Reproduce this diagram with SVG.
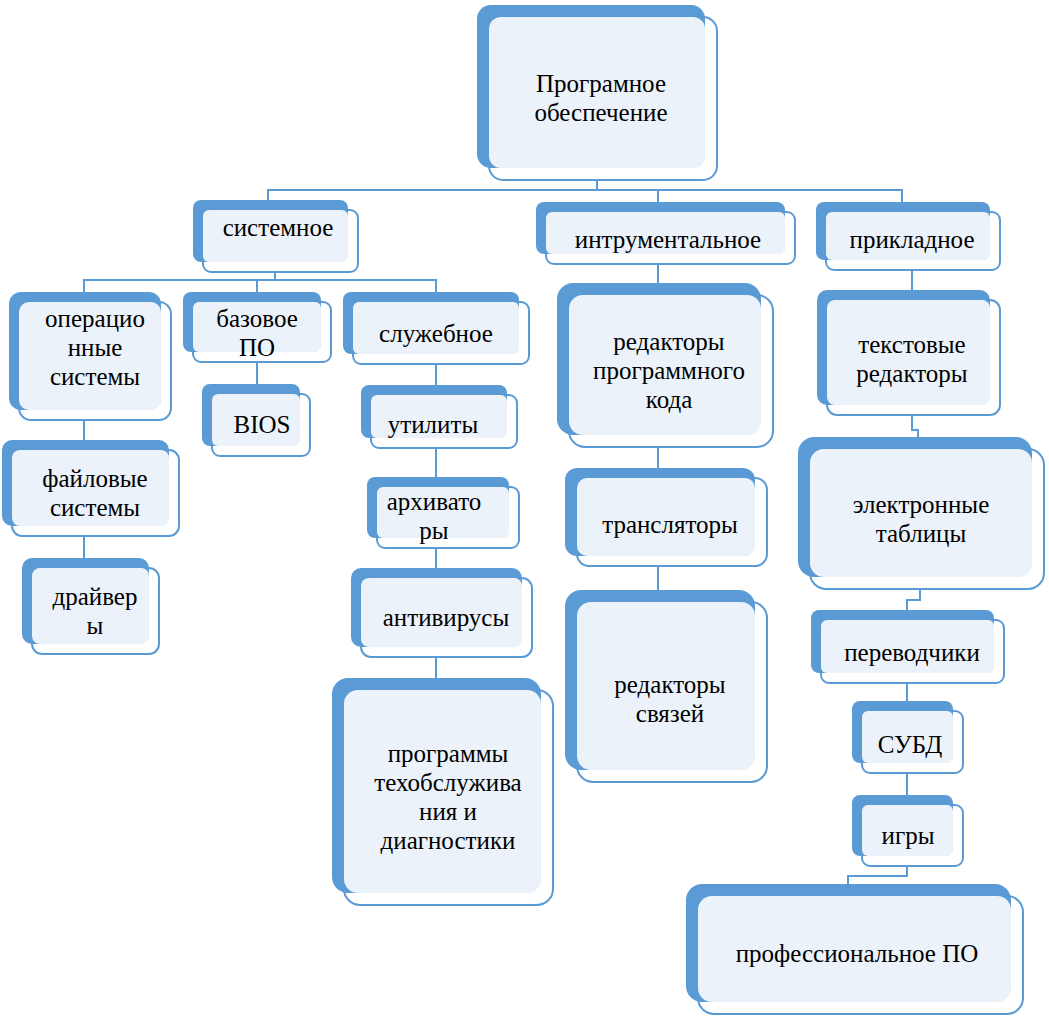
<svg xmlns="http://www.w3.org/2000/svg" width="1049" height="1018" viewBox="0 0 1049 1018">
<style>
.f{fill:#fff;stroke:#5b9bd5;stroke-width:2}
.b{fill:#5b9bd5}
.l{fill:#ebf2f9}
.c{fill:none;stroke:#5b9bd5;stroke-width:2}
text{font-family:"Liberation Serif","Times New Roman",serif;font-size:25px;fill:#000;text-anchor:middle}
</style>
<rect width="1049" height="1018" fill="#fff"/>
<g id="connectors">
<path class="c" d="M597 180V190M268 200V190H902V202M658 190V202"/>
<path class="c" d="M275 272V280M84 292V280H436V292M257 280V292M257 362V384"/>
<path class="c" d="M436 364V385M436 448V477M436 548V568M436 657V678"/>
<path class="c" d="M84 420V440M84 536V558"/>
<path class="c" d="M658 264V283M658 447V468M658 566V590"/>
<path class="c" d="M912 270V290M912 415V430H918V437M920 589V600H907V610M907 683V701M907 773V795M907 866V876H848V884"/>
</g>
<g id="n-root"><rect class="f" x="489" y="17" width="228" height="163" rx="14"/><rect class="b" x="477" y="5" width="228" height="163" rx="14"/><rect class="l" x="489" y="17" width="216" height="151" rx="12"/><text x="601" y="92">Програмное</text><text x="601" y="121">обеспечение</text></g>
<g id="n-sys"><rect class="f" x="203" y="210" width="155" height="62" rx="8"/><rect class="b" x="193" y="200" width="155" height="62" rx="8"/><rect class="l" x="203" y="210" width="145" height="52" rx="6"/><text x="278" y="236">системное</text></g>
<g id="n-instr"><rect class="f" x="546" y="212" width="249" height="52" rx="8"/><rect class="b" x="536" y="202" width="249" height="52" rx="8"/><rect class="l" x="546" y="212" width="239" height="42" rx="6"/><text x="668" y="248">интрументальное</text></g>
<g id="n-prikl"><rect class="f" x="826" y="212" width="174" height="58" rx="8"/><rect class="b" x="816" y="202" width="174" height="58" rx="8"/><rect class="l" x="826" y="212" width="164" height="48" rx="6"/><text x="912" y="248">прикладное</text></g>
<g id="n-os"><rect class="f" x="19" y="302" width="152" height="118" rx="12"/><rect class="b" x="9" y="292" width="152" height="118" rx="12"/><rect class="l" x="19" y="302" width="142" height="108" rx="10"/><text x="95" y="327">операцио</text><text x="95" y="356">нные</text><text x="95" y="385">системы</text></g>
<g id="n-base"><rect class="f" x="193" y="302" width="138" height="60" rx="8"/><rect class="b" x="183" y="292" width="138" height="60" rx="8"/><rect class="l" x="193" y="302" width="128" height="50" rx="6"/><text x="257" y="327">базовое</text><text x="257" y="356">ПО</text></g>
<g id="n-sluzh"><rect class="f" x="353" y="302" width="176" height="62" rx="8"/><rect class="b" x="343" y="292" width="176" height="62" rx="8"/><rect class="l" x="353" y="302" width="166" height="52" rx="6"/><text x="436" y="342">служебное</text></g>
<g id="n-bios"><rect class="f" x="212" y="394" width="98" height="62" rx="8"/><rect class="b" x="202" y="384" width="98" height="62" rx="8"/><rect class="l" x="212" y="394" width="88" height="52" rx="6"/><text x="262" y="433">BIOS</text></g>
<g id="n-util"><rect class="f" x="371" y="395" width="146" height="53" rx="8"/><rect class="b" x="361" y="385" width="146" height="53" rx="8"/><rect class="l" x="371" y="395" width="136" height="43" rx="6"/><text x="433" y="433">утилиты</text></g>
<g id="n-arch"><rect class="f" x="377" y="487" width="142" height="61" rx="8"/><rect class="b" x="367" y="477" width="142" height="61" rx="8"/><rect class="l" x="377" y="487" width="132" height="51" rx="6"/><text x="434" y="510">архивато</text><text x="434" y="539">ры</text></g>
<g id="n-anti"><rect class="f" x="361" y="578" width="171" height="79" rx="10"/><rect class="b" x="351" y="568" width="171" height="79" rx="10"/><rect class="l" x="361" y="578" width="161" height="69" rx="8"/><text x="446" y="626">антивирусы</text></g>
<g id="n-tech"><rect class="f" x="344" y="690" width="209" height="215" rx="16"/><rect class="b" x="332" y="678" width="209" height="215" rx="16"/><rect class="l" x="344" y="690" width="197" height="203" rx="14"/><text x="448" y="762">программы</text><text x="448" y="791">техобслужива</text><text x="448" y="820">ния и</text><text x="448" y="849">диагностики</text></g>
<g id="n-fs"><rect class="f" x="12" y="450" width="167" height="86" rx="10"/><rect class="b" x="2" y="440" width="167" height="86" rx="10"/><rect class="l" x="12" y="450" width="157" height="76" rx="8"/><text x="95" y="487">файловые</text><text x="95" y="516">системы</text></g>
<g id="n-drv"><rect class="f" x="32" y="568" width="127" height="86" rx="10"/><rect class="b" x="22" y="558" width="127" height="86" rx="10"/><rect class="l" x="32" y="568" width="117" height="76" rx="8"/><text x="95" y="605">драйвер</text><text x="95" y="634">ы</text></g>
<g id="n-code"><rect class="f" x="569" y="295" width="204" height="152" rx="16"/><rect class="b" x="557" y="283" width="204" height="152" rx="16"/><rect class="l" x="569" y="295" width="192" height="140" rx="14"/><text x="669" y="350">редакторы</text><text x="669" y="379">программного</text><text x="669" y="408">кода</text></g>
<g id="n-trans"><rect class="f" x="577" y="478" width="190" height="88" rx="12"/><rect class="b" x="565" y="468" width="190" height="88" rx="12"/><rect class="l" x="577" y="478" width="178" height="78" rx="10"/><text x="670" y="533">трансляторы</text></g>
<g id="n-link"><rect class="f" x="577" y="602" width="190" height="180" rx="16"/><rect class="b" x="565" y="590" width="190" height="180" rx="16"/><rect class="l" x="577" y="602" width="178" height="168" rx="14"/><text x="670" y="693">редакторы</text><text x="670" y="722">связей</text></g>
<g id="n-text"><rect class="f" x="827" y="300" width="173" height="115" rx="10"/><rect class="b" x="817" y="290" width="173" height="115" rx="10"/><rect class="l" x="827" y="300" width="163" height="105" rx="8"/><text x="912" y="353">текстовые</text><text x="912" y="382">редакторы</text></g>
<g id="n-tab"><rect class="f" x="810" y="449" width="234" height="140" rx="16"/><rect class="b" x="798" y="437" width="234" height="140" rx="16"/><rect class="l" x="810" y="449" width="222" height="128" rx="14"/><text x="921" y="513">электронные</text><text x="921" y="542">таблицы</text></g>
<g id="n-perev"><rect class="f" x="821" y="620" width="183" height="63" rx="8"/><rect class="b" x="811" y="610" width="183" height="63" rx="8"/><rect class="l" x="821" y="620" width="173" height="53" rx="6"/><text x="912" y="661">переводчики</text></g>
<g id="n-subd"><rect class="f" x="862" y="711" width="101" height="62" rx="8"/><rect class="b" x="852" y="701" width="101" height="62" rx="8"/><rect class="l" x="862" y="711" width="91" height="52" rx="6"/><text x="910" y="753">СУБД</text></g>
<g id="n-game"><rect class="f" x="862" y="805" width="101" height="61" rx="8"/><rect class="b" x="852" y="795" width="101" height="61" rx="8"/><rect class="l" x="862" y="805" width="91" height="51" rx="6"/><text x="908" y="844">игры</text></g>
<g id="n-prof"><rect class="f" x="698" y="896" width="325" height="118" rx="16"/><rect class="b" x="686" y="884" width="325" height="118" rx="16"/><rect class="l" x="698" y="896" width="313" height="106" rx="14"/><text x="857" y="962">профессиональное ПО</text></g>
</svg>
